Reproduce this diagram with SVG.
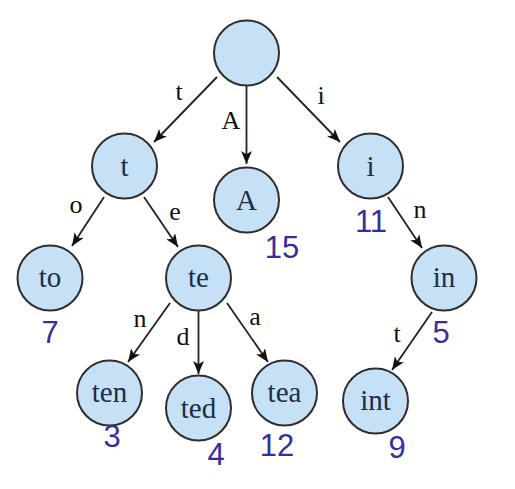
<svg xmlns="http://www.w3.org/2000/svg" width="515" height="489" viewBox="0 0 515 489">
<defs>
<marker id="arr" viewBox="0 0 12 10" refX="12" refY="5" markerWidth="13" markerHeight="11" markerUnits="userSpaceOnUse" orient="auto">
<path d="M0,0 L12,5 L0,10 L3,5 Z" fill="#111"/>
</marker>
<style>
.n circle{fill:#c6e0f5;stroke:#2e2e2e;stroke-width:2}
.n text{font-family:"Liberation Serif",serif;font-size:29px;fill:#1c2e4a;text-anchor:middle}
.num{font-family:"Liberation Sans",Arial,sans-serif;font-size:31px;fill:#3a2c9e;text-anchor:middle}
.lbl{font-family:"Liberation Serif",serif;font-size:26px;fill:#111;text-anchor:middle}
.e line{stroke:#222;stroke-width:1.8;marker-end:url(#arr)}
</style>
</defs>
<rect width="515" height="489" fill="#fff"/>
<g id="connectors" class="e">
<line x1="217" y1="77" x2="154" y2="142"/>
<line x1="246.5" y1="86" x2="246.5" y2="164"/>
<line x1="277" y1="77" x2="340" y2="142"/>
<line x1="104" y1="197" x2="72" y2="246"/>
<line x1="144" y1="197" x2="178" y2="247"/>
<line x1="388" y1="197" x2="422" y2="248"/>
<line x1="170" y1="303" x2="128" y2="362"/>
<line x1="198.5" y1="311" x2="198.5" y2="374"/>
<line x1="227" y1="303" x2="268" y2="362"/>
<line x1="432" y1="312" x2="392" y2="370"/>
</g>
<g id="edge-labels">
<text class="lbl" x="179" y="100">t</text>
<text class="lbl" x="231" y="129">A</text>
<text class="lbl" x="321" y="104">i</text>
<text class="lbl" x="76" y="213">o</text>
<text class="lbl" x="175" y="220">e</text>
<text class="lbl" x="420" y="218">n</text>
<text class="lbl" x="140" y="327">n</text>
<text class="lbl" x="183" y="345">d</text>
<text class="lbl" x="255" y="325">a</text>
<text class="lbl" x="397" y="342">t</text>
</g>
<g id="root" class="n"><circle cx="246.5" cy="53" r="32.5"/></g>
<g id="node-t" class="n"><circle cx="124.5" cy="166" r="32.5"/><text x="124.5" y="176">t</text></g>
<g id="node-A" class="n"><circle cx="246.5" cy="200" r="32.5"/><text x="246.5" y="210">A</text></g>
<g id="node-i" class="n"><circle cx="370.5" cy="166" r="32.5"/><text x="370.5" y="176">i</text></g>
<g id="node-to" class="n"><circle cx="50" cy="278" r="32.5"/><text x="50" y="287">to</text></g>
<g id="node-te" class="n"><circle cx="198.5" cy="278" r="32.5"/><text x="198.5" y="287">te</text></g>
<g id="node-in" class="n"><circle cx="444" cy="278" r="32.5"/><text x="444" y="287">in</text></g>
<g id="node-ten" class="n"><circle cx="109.5" cy="393" r="32.5"/><text x="109.5" y="402">ten</text></g>
<g id="node-ted" class="n"><circle cx="198.5" cy="408" r="32.5"/><text x="198.5" y="418">ted</text></g>
<g id="node-tea" class="n"><circle cx="284.5" cy="393" r="32.5"/><text x="284.5" y="402">tea</text></g>
<g id="node-int" class="n"><circle cx="375.5" cy="401" r="32.5"/><text x="375.5" y="410">int</text></g>
<g id="values">
<text class="num" x="282" y="258">15</text>
<text class="num" x="371" y="232">11</text>
<text class="num" x="50" y="343">7</text>
<text class="num" x="441" y="343">5</text>
<text class="num" x="112" y="447">3</text>
<text class="num" x="216" y="465">4</text>
<text class="num" x="277" y="456">12</text>
<text class="num" x="397" y="458">9</text>
</g>
</svg>
